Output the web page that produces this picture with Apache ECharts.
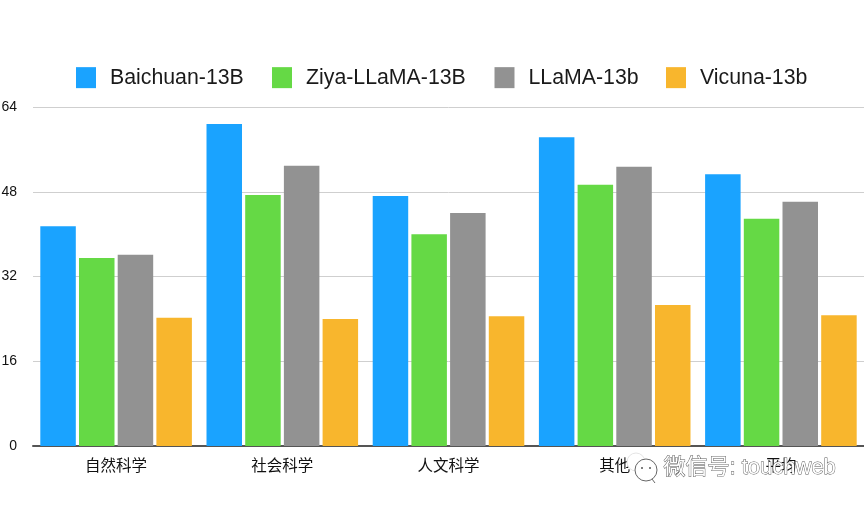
<!DOCTYPE html>
<html>
<head>
<meta charset="utf-8">
<style>
html, body { margin: 0; padding: 0; background: #fff; }
#contain { width: 864px; height: 506px; }
</style>
<script src="https://cdn.jsdelivr.net/npm/echarts@6/dist/echarts.min.js"></script>
</head>
<body>
<div id="contain"></div>
<script>
var categories = ["自然科学", "社会科学", "人文科学", "其他", "平均"];
var yTicks = [0, 16, 32, 48, 64];
var baichuan = [41.5, 60.8, 47.2, 58.3, 51.3];
var ziya = [35.5, 47.4, 40, 49.3, 42.9];
var llama = [36.1, 52.9, 44, 52.7, 46.1];
var vicuna = [24.2, 24, 24.5, 26.6, 24.7];
var seriesNames = ["Baichuan-13B", "Ziya-LLaMA-13B", "LLaMA-13b", "Vicuna-13b"];
var seriesColors = ["#1aa3ff", "#65d945", "#929292", "#f8b62d"];
var seriesValues = [baichuan, ziya, llama, vicuna];

var font = "'Liberation Sans', 'Noto Sans CJK SC', sans-serif";
var legendLefts = [76, 272, 494.5, 666];

var myChart = echarts.init(document.getElementById("contain"));
myChart.setOption({
    animation: false,
    textStyle: { fontFamily: font },
    // 图例间距不均匀，每项单独放一个
    legend: seriesNames.map(function (name, i) {
        return {
            left: legendLefts[i],
            top: 67,
            padding: 0,
            itemWidth: 20,
            itemHeight: 21,
            icon: "rect",
            textStyle: { fontSize: 21.3, color: "#1a1a1a", fontFamily: font, padding: [0, 0, 0, 9] },
            data: [name]
        };
    }),
    grid: { left: 33, right: 0, top: 107, bottom: 60, outerBoundsMode: "none" },
    xAxis: {
        type: "category",
        data: categories,
        axisTick: { show: false },
        axisLine: { lineStyle: { color: "#555", width: 2 } },
        axisLabel: { color: "#111", fontSize: 15.5, margin: 13, fontFamily: font }
    },
    yAxis: {
        type: "value",
        min: yTicks[0],
        max: yTicks[yTicks.length - 1],
        interval: 16,
        axisLine: { show: false },
        axisTick: { show: false },
        splitLine: { lineStyle: { color: "#cfcfcf", width: 1 } },
        axisLabel: { color: "#111", fontSize: 14, margin: 16, fontFamily: font }
    },
    series: seriesValues.map(function (vals, i) {
        return {
            name: seriesNames[i],
            type: "bar",
            data: vals,
            barWidth: 35.5,
            barGap: "9%",
            itemStyle: { color: seriesColors[i] }
        };
    }),
    /*水印*/
    graphic: [
        { type: "circle", z: 100, shape: { cx: 636, cy: 462, r: 9 }, style: { fill: "#fff", stroke: "#e4e4e4", lineWidth: 1 } },
        { type: "line", z: 100, shape: { x1: 652, y1: 479, x2: 655, y2: 483 }, style: { stroke: "#666", lineWidth: 1 } },
        { type: "circle", z: 101, shape: { cx: 646, cy: 470, r: 11 }, style: { fill: "#fff", stroke: "#666", lineWidth: 1 } },
        { type: "circle", z: 102, shape: { cx: 642, cy: 468, r: 1 }, style: { fill: "#555" } },
        { type: "circle", z: 102, shape: { cx: 650, cy: 468, r: 1 }, style: { fill: "#555" } },
        {
            type: "text",
            z: 100,
            left: 663,
            top: 456,
            style: {
                text: "微信号: touchweb",
                fontSize: 22,
                fontFamily: font,
                fill: "#fff",
                stroke: "#555",
                lineWidth: 0.9,
                shadowColor: "rgba(0,0,0,0.5)",
                shadowBlur: 1,
                shadowOffsetX: 1,
                shadowOffsetY: 1
            }
        }
    ]
});
</script>
</body>
</html>
